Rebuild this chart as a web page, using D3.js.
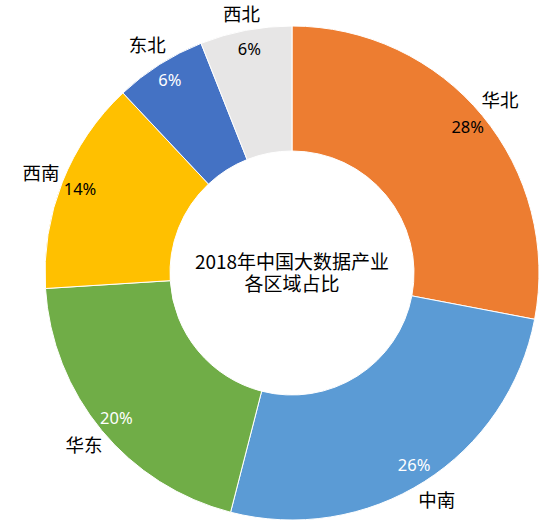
<!DOCTYPE html>
<html>
<head>
<meta charset="utf-8">
<script src="https://cdn.jsdelivr.net/npm/d3@7"></script>
<style>
  body { margin: 0; background: #fff; }
  svg text { font-family: "Noto Sans CJK SC", "Noto Sans", sans-serif; }
</style>
</head>
<body>
<div class="chart"></div>
<script>
var regions = ['华北', '中南', '华东', '西南', '东北', '西北'];
var shares = [28, 26, 20, 14, 6, 6];
var colors = ['#ED7D31', '#5B9BD5', '#70AD47', '#FFC000', '#4472C4', '#E7E6E6'];
var pctColors = ['#000', '#fff', '#fff', '#000', '#fff', '#000'];
var title = ['2018年中国大数据产业', '各区域占比'];

var width = 549, height = 526;
var cx = 292, cy = 273;
var outerR = 247, innerR = 122;

var svg = d3.select('.chart')
  .append('svg')
    .attr('width', width)
    .attr('height', height)
  .append('g')
    .attr('transform', 'translate(' + cx + ', ' + cy + ')');

var data = regions.map((r, i) => ({ name: r, value: shares[i], i: i }));

var pie = d3.pie()
  .value(d => d.value)
  .sort(null);

var arc = d3.arc()
  .innerRadius(innerR)
  .outerRadius(outerR);

var pctArc = d3.arc().innerRadius(228).outerRadius(228);
var nameArc = d3.arc().innerRadius(270).outerRadius(270);

var slices = svg.selectAll('.slice')
  .data(pie(data))
  .enter()
  .append('g')
  .attr('class', 'slice');

slices.append('path')
  .attr('d', arc)
  .style('fill', d => colors[d.data.i])
  .style('stroke', '#fff')
  .style('stroke-width', 1);

slices.append('text')
  .attr('transform', d => 'translate(' + pctArc.centroid(d) + ')')
  .attr('text-anchor', 'middle')
  .attr('dy', '0.35em')
  .style('font-family', '"Noto Sans", sans-serif')
  .style('font-size', '16.5px')
  .style('fill', d => pctColors[d.data.i])
  .text(d => d.data.value + '%');

slices.append('text')
  .attr('transform', d => {
    var c = nameArc.centroid(d);
    // keep the top label inside the picture
    return 'translate(' + c[0] + ',' + Math.max(c[1], 15 - cy) + ')';
  })
  .attr('text-anchor', 'middle')
  .attr('dy', '0.35em')
  .style('font-size', '18.5px')
  .style('fill', '#000')
  .text(d => d.data.name);

// centre title, one text per line
svg.selectAll('.title')
  .data(title)
  .enter()
  .append('text')
    .attr('class', 'title')
    .attr('text-anchor', 'middle')
    .attr('x', 0)
    .attr('y', (d, i) => -11 + i * 22)
    .attr('dy', '0.35em')
    .style('font-size', '19px')
    .style('fill', '#000')
    .text(d => d);
</script>
</body>
</html>
